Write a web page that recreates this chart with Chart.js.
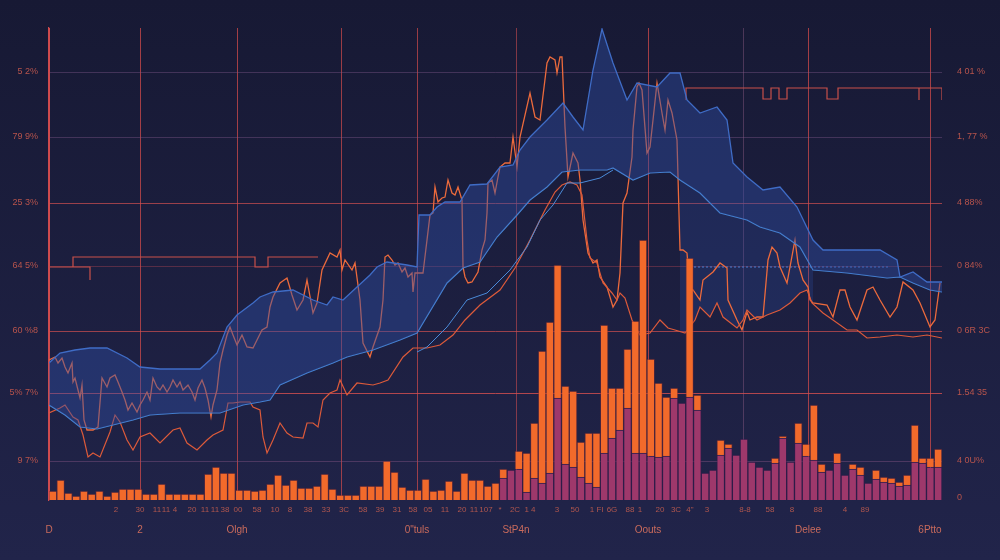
<!DOCTYPE html>
<html>
<head>
<meta charset="utf-8">
<script src="https://cdn.jsdelivr.net/npm/chart.js@4"></script>
<style>
  html, body { margin: 0; padding: 0; background: #1c1e3d; }
  #wrap { width: 1000px; height: 560px; }
</style>
</head>
<body>
<div id="wrap"><canvas id="myChart"></canvas></div>
<script>
// volume bars: orange part and magenta base, one value per session
const orangeVol = [
  1.8, 4, 1.4, 0.8, 1.8, 1.2, 1.8, 0.8, 1.6, 2.2, 2.2, 2.2, 1.2, 1.2, 3.2, 1.2, 1.2, 1.2, 1.2, 1.2,
  5.2, 6.6, 5.4, 5.4, 2, 2, 1.8, 2, 3.2, 5, 3, 4, 2.4, 2.4, 2.8, 5.2, 2.2, 1, 1, 1,
  2.8, 2.8, 2.8, 7.8, 5.6, 2.6, 2, 2, 4.2, 1.8, 2, 3.8, 1.8, 5.4, 4, 4, 2.8, 3.4,
  1.8, 0, 3.6, 7.8, 11, 26.4, 30.2, 26.6, 15.6, 15.2, 7, 10, 10.8, 25.6, 10, 8.4, 11.8, 26.4, 42.6, 19.4,
  14.8, 11.8, 2, 0, 27.8, 3, 0, 0, 3, 0.8, 0, 0, 0, 0, 0, 1, 0.4, 0, 4, 2.4,
  11, 1.6, 0, 2, 0, 1, 1.6, 0, 1.8, 1, 1, 0.8, 2, 7.4, 1, 1.8, 3.6
];
const magentaVol = [
  0, 0, 0, 0, 0, 0, 0, 0, 0, 0, 0, 0, 0, 0, 0, 0, 0, 0, 0, 0,
  0, 0, 0, 0, 0, 0, 0, 0, 0, 0, 0, 0, 0, 0, 0, 0, 0, 0, 0, 0,
  0, 0, 0, 0, 0, 0, 0, 0, 0, 0, 0, 0, 0, 0, 0, 0, 0, 0,
  4.4, 6, 6.2, 1.6, 4.4, 3.4, 5.4, 20.4, 7.2, 6.6, 4.6, 3.4, 2.6, 9.4, 12.4, 14, 18.4, 9.4, 9.4, 8.8,
  8.6, 8.8, 20.4, 19.4, 20.6, 18, 5.4, 6, 9, 10.4, 9, 12.2, 7.6, 6.6, 6, 7.4, 12.4, 7.6, 11.4, 8.8,
  8, 5.6, 6, 7.4, 5, 6.2, 5, 3.4, 4.2, 3.6, 3.4, 2.8, 3, 7.6, 7.4, 6.6, 6.6
];
const barDays = orangeVol.map((_, i) => String(i + 1));

// price lines as [day, value]
const upperOrange = [
  [0, 28], [0.6, 28.6], [0.9, 27.4], [1.3, 28.4], [1.6, 26.6], [1.9, 25.4], [2.3, 27.4], [2.4, 23.6], [2.6, 24.4],
  [2.9, 22], [3.1, 20.4], [3.3, 23], [3.5, 16], [3.8, 14], [4.4, 14], [4.9, 14.6], [5.3, 24.4], [5.8, 22.6],
  [6.1, 24.4], [6.6, 25], [6.9, 23.6], [7.3, 21.6], [7.6, 20], [7.9, 18], [8.3, 19.4], [8.8, 17.6], [9.1, 19],
  [9.4, 20], [9.8, 21.6], [10.1, 20], [10.4, 24.4], [10.8, 22.6], [11.1, 22], [11.4, 23], [11.8, 21.6],
  [12.1, 22.6], [12.4, 24], [12.8, 22.6], [13.1, 23.6], [13.4, 22], [13.9, 23], [14.3, 21.6], [14.6, 20],
  [14.9, 22.4], [15.3, 24], [15.6, 22.4], [15.9, 20], [16.2, 16.6], [16.4, 19], [16.8, 22], [17.1, 27.4],
  [17.4, 30], [17.8, 33], [18.1, 34.6], [18.4, 33], [18.8, 31], [19.3, 33], [19.8, 30.6], [20.4, 30.4],
  [20.8, 32], [21.3, 34], [21.8, 34.6], [22.1, 38.6], [22.4, 40.6], [23.1, 43.4], [23.8, 44.4], [24.3, 41],
  [24.8, 38], [25.4, 40], [25.8, 44], [26.4, 37.4], [26.8, 39.4], [27.3, 46], [28.1, 49.4], [28.8, 48.6],
  [29.1, 50], [29.3, 46], [29.6, 48], [30.3, 46], [30.6, 47.4], [31.1, 40], [31.4, 31.4], [32.1, 28.6],
  [32.4, 30.6], [33.1, 34.6], [33.4, 40], [33.6, 48.6], [33.9, 49], [34.3, 48], [34.6, 47], [34.9, 47.4],
  [35.3, 45.6], [35.6, 46.4], [35.9, 44.6], [36.3, 45.4], [36.4, 41.6], [36.6, 45.4], [37.4, 45.4], [37.8, 52],
  [38.1, 57], [38.4, 57.4], [38.6, 62.6], [38.9, 59.6], [39.3, 60.4], [39.6, 60.6], [39.9, 64], [40.3, 61.4],
  [40.6, 61], [40.9, 62.6], [41.3, 60], [41.4, 46.6], [41.6, 44.6], [41.9, 43.4], [42.3, 43.6], [42.6, 44.6],
  [42.9, 45.6], [43.3, 50], [43.6, 52], [43.8, 57.4], [43.9, 63.4], [44.3, 64], [44.6, 61.4], [44.9, 64.6],
  [45.1, 66.6], [45.6, 67.4], [46.1, 67.4], [46.4, 72.6], [46.8, 66.6], [47.1, 72.6], [48.1, 81.4], [48.6, 76.6],
  [49.1, 76], [49.8, 87.4], [50.1, 88.6], [50.6, 88], [50.8, 85.4], [51.1, 88.6], [51.3, 88.6], [51.6, 74.6],
  [51.9, 64.6], [52.4, 69.4], [52.9, 67.4], [53.1, 64], [53.4, 56], [53.9, 49.4], [54.4, 47.4], [54.8, 48],
  [55.1, 44.6], [55.8, 42.6], [56.4, 38.6], [56.8, 40], [57.1, 45.4], [57.4, 59.4], [57.8, 61.4], [58.3, 68.6],
  [58.4, 74], [58.8, 82.6], [59, 83.4], [59.3, 82], [59.8, 69.4], [60.1, 70.6], [60.4, 76], [60.8, 83.4],
  [61.3, 77.4], [61.6, 74], [61.9, 80], [62.3, 77.4], [62.8, 72], [63.1, 50], [63.4, 50], [63.8, 49.4],
  [64.1, 42], [64.4, 42], [65.1, 40], [65.4, 44], [66.4, 45.6], [67.1, 47.4], [67.8, 46.4], [67.9, 40],
  [68.8, 36], [69.3, 34], [69.8, 37.6], [70.1, 36], [70.8, 36.6], [71.4, 36.6], [71.9, 48], [72.3, 50.6],
  [72.8, 49.4], [73.1, 46.6], [73.8, 43.4], [74.6, 52], [74.9, 47.4], [75.4, 44], [75.9, 42.6], [76.1, 40],
  [76.4, 39.4], [77.8, 39], [78.4, 36.6], [79.1, 42], [79.6, 42], [80.1, 38.6], [80.8, 36], [81.8, 42],
  [82.4, 42.6], [83.1, 40], [84.1, 36.6], [84.8, 38.6], [85.4, 43.6], [86.4, 42], [87.1, 39.4], [88.1, 34.6],
  [88.6, 36], [89.1, 43.4]
];
const lowerOrange = [
  [0, 17.4], [1.1, 18.4], [1.6, 19], [2.4, 16.6], [2.9, 16], [3.4, 13], [3.9, 8.6], [4.4, 9.4], [5.1, 8.6],
  [6.1, 13.6], [6.6, 17], [7.1, 15.6], [7.8, 12], [8.4, 10], [9.1, 12.6], [10.1, 13.4], [11.1, 11.4],
  [12.4, 14], [13.1, 14.4], [13.8, 11.4], [14.8, 10], [15.8, 12], [16.4, 13], [17.4, 14], [17.9, 19.4],
  [18.4, 19.4], [19.1, 19.6], [20.1, 19.6], [20.4, 18.6], [21.1, 18], [21.4, 12.6], [21.8, 9.4], [22.4, 12],
  [23.1, 15.4], [23.8, 13.4], [24.4, 12.6], [25.4, 12.4], [25.8, 15.4], [26.4, 15.4], [26.9, 14.6], [27.4, 20],
  [28.1, 21.4], [28.8, 22], [29.1, 24], [29.8, 21], [30.8, 23.4], [32.4, 23], [33.1, 23.4], [33.9, 24],
  [35.4, 28.6], [36.4, 30.4], [37.8, 30.4], [39.1, 31], [40.4, 33], [41.6, 36], [43.1, 39], [45.1, 42],
  [46.6, 46.4], [48.1, 52], [49.6, 58], [50.6, 61.6], [51.3, 63], [52.1, 63.6], [52.8, 63], [53.3, 61],
  [53.8, 52], [54.1, 48.4], [54.8, 47.4], [55.4, 43.4], [56.3, 41.4], [56.8, 40], [57.1, 41.4], [57.6, 40.4],
  [58.3, 36], [59.1, 33], [60.1, 33.4], [61.1, 36], [61.9, 34.4], [62.6, 34], [63.6, 33.4], [64.6, 36],
  [65.1, 38.6], [66.1, 36.6], [66.8, 39.4], [67.4, 36.6], [68.8, 34.4], [69.4, 36], [69.8, 38], [70.8, 36],
  [71.8, 37], [73.1, 38], [74.1, 39.4], [75.1, 41.4], [75.8, 42], [76.3, 39.4], [77.4, 37.4], [78.4, 36],
  [79.8, 34], [80.8, 34], [81.8, 32.4], [83.1, 32.6], [84.8, 33], [86.4, 32.6], [87.8, 33], [89.3, 32.4]
];
const bandTop = [
  [0, 27.4], [1.1, 29.4], [2.6, 30], [4.1, 30.4], [5.8, 30.4], [7.8, 28.4], [9.1, 26.6], [11.1, 26.2],
  [15.1, 26.2], [16.1, 28], [16.8, 29.4], [17.8, 34.6], [18.8, 37], [20.4, 39.4], [21.1, 40.6], [22.4, 41.6],
  [24.4, 42], [26.4, 40], [27.8, 39], [28.4, 40.6], [29.4, 40], [30.8, 42.6], [32.1, 45], [32.8, 46.6],
  [33.8, 47.6], [35.8, 47], [36.8, 46.6], [37, 57], [38.1, 57], [38.8, 58.6], [39.6, 59.6], [41.1, 59.6],
  [42.1, 63], [43.8, 63.2], [45.1, 66.6], [46.4, 67], [47.1, 70], [48.1, 72.6], [49.8, 76], [51.4, 79.4],
  [52.4, 76.6], [53.4, 74], [54.4, 86], [55.3, 94.2], [56.4, 87.4], [57.8, 80], [58.8, 83.4], [60.8, 82.6],
  [62.1, 85.4], [63.1, 85.4], [63.8, 80], [65.1, 77.4], [66.8, 78.6], [67.8, 76], [68.4, 67.4], [69.8, 64.6],
  [71.4, 62], [73.1, 62.6], [74.8, 58.6], [76.4, 52], [77.4, 50], [80.8, 50], [83.1, 50], [84.8, 48],
  [85.1, 44.6], [86.4, 45.6], [87.8, 43.6], [89.3, 43.6]
];
const bandMid = [
  [0, 19], [1.6, 17], [3.1, 14.6], [4.8, 14.2], [8.4, 16], [10.1, 17], [13.1, 17.4], [17.1, 17.4], [19.4, 19],
  [21.1, 19.6], [22.1, 20], [23.1, 23], [25.8, 25.4], [28.4, 27.4], [29.8, 28.6], [32.4, 30], [35.1, 32],
  [36.8, 33.4], [39.8, 43.4], [41.4, 46.4], [43.1, 47.6], [44.8, 52.6], [46.8, 57], [48.1, 60], [49.8, 62.6],
  [51.3, 65.6], [53.1, 66], [55.8, 66], [56.4, 66.4], [58.4, 64], [60.1, 65.4], [62.1, 65.6], [63.1, 64],
  [65.1, 61.4], [67.1, 57.4], [69.8, 56], [71.1, 54.6], [73.1, 53.4], [75.1, 50.6], [76.4, 46], [79.8, 45.4],
  [83.8, 44.4], [85.1, 44.6], [86.4, 43.4], [88.1, 42], [89.3, 41.6]
];
const bandLow = [
  [36.8, 29.6], [37.8, 30.6], [39.8, 34.6], [41.8, 40], [43.8, 41.4], [46.1, 46], [47.8, 50.6], [49.1, 56],
  [50.4, 59], [51.8, 63.4], [53.1, 63.4], [55.1, 64.4], [56.4, 66]
];
// lighter shading under the band on the falling side
const shadeEdge = [
  [63.1, 64], [65.1, 61.4], [67.1, 57.4], [69.8, 56], [71.1, 54.6], [73.1, 53.4], [75.1, 50.6], [76.4, 46]
];
// thin step markers
const stepLeftA = [[0, 46.6], [4.1, 46.6], [4.1, 44]];
const stepLeftB = [[2.4, 46.6], [2.4, 48.6], [20.6, 48.6], [20.6, 46.6], [21.9, 46.6], [21.9, 48.6], [26.9, 48.6]];
const stepRight = [
  [63.7, 80], [63.7, 82.4], [71.4, 82.4], [71.4, 80.2], [72.2, 80.2], [72.2, 82.4], [73, 82.4], [73, 80.2],
  [73.8, 80.2], [73.8, 82.4], [77.8, 82.4], [77.8, 80.2], [78.9, 80.2], [78.9, 82.4], [89.3, 82.4], [89.3, 80]
];
const stepRightTick = [[87, 82.4], [87, 80]];
const blueDots = [[64.1, 46.6], [84.1, 46.6]];

// axes
const yTicks = [0.4, 7.8, 21.4, 33.8, 46.8, 59.4, 72.6, 85.6];
const leftLabels = ["", "9 7%", "5% 7%", "60 %8", "64 5%", "25 3%", "79 9%", "5 2%"];
const rightLabels = ["0", "4 0U%", "1.54 35", "0 6R 3C", "0 84%", "4 88%", "1, 77 %", "4 01 %"];
const yGridColors = [
  "rgba(0,0,0,0)", "rgba(130,85,130,0.45)", "rgba(215,80,80,0.8)", "rgba(210,80,80,0.7)",
  "rgba(200,75,85,0.35)", "rgba(210,80,80,0.7)", "rgba(130,90,140,0.4)", "rgba(130,90,140,0.4)"
];
const dateTicks = [0, 9.1, 18.8, 29.2, 36.8, 46.7, 59.9, 69.4, 75.9, 88.1];
const dateLabels = ["D", "2", "Olgh", "", "0\"tuls", "StP4n", "Oouts", "", "Delee", "6Ptto"];
const xGridColors = [
  "rgba(225,80,80,0.9)", "rgba(210,75,75,0.75)", "rgba(210,75,75,0.75)", "rgba(210,75,75,0.7)",
  "rgba(210,75,75,0.7)", "rgba(200,75,80,0.6)", "rgba(210,75,75,0.75)", "rgba(140,90,130,0.45)",
  "rgba(210,75,75,0.75)", "rgba(210,75,75,0.75)"
];
const smallTicks = [
  6.7, 9.1, 10.8, 11.7, 12.6, 14.3, 15.6, 16.6, 17.6, 18.9, 20.8, 22.6, 24.1, 25.9, 27.7, 29.5, 31.4, 33.1,
  34.8, 36.4, 37.9, 39.6, 41.3, 42.5, 43.7, 45.1, 46.6, 48.1, 50.8, 52.6, 54.3, 55.1, 56.3, 58.1, 59.1,
  61.1, 62.7, 64.1, 65.8, 69.6, 72.1, 74.3, 76.9, 79.6, 81.6
];
const smallLabels = [
  "2", "30", "11", "11", "4", "20", "11", "11", "38", "00", "58", "10", "8", "38", "33", "3C", "58", "39",
  "31", "58", "05", "11", "20", "11", "107", "*", "2C", "1 4", "3", "50", "1", "FI", "6G", "88", "1",
  "20", "3C", "4\"", "3", "8-8", "58", "8", "88", "4", "89"
];

const xMax = 89.3;
const yMax = 94.4;
const labelFont = "Liberation Sans";
const pts = (arr) => arr.map(([x, y]) => ({ x, y }));

const lineBase = {
  type: "line",
  xAxisID: "xl",
  yAxisID: "y",
  pointRadius: 0,
  tension: 0,
  order: 2,
};

const barBase = {
  xAxisID: "x",
  yAxisID: "yb",
  stack: "vol",
  grouped: false,
  barPercentage: 1,
  categoryPercentage: 1,
  borderWidth: 1,
  order: 1,
};

const bgPlugin = {
  id: "bg",
  beforeDraw(chart) {
    const c = chart.ctx;
    const g = c.createLinearGradient(0, 0, 0, chart.height);
    g.addColorStop(0, "#171934");
    g.addColorStop(1, "#21244a");
    c.save();
    c.fillStyle = g;
    c.fillRect(0, 0, chart.width, chart.height);
    c.restore();
  },
};

new Chart(document.getElementById("myChart"), {
  type: "bar",
  data: {
    labels: barDays,
    datasets: [
      {
        ...barBase,
        data: magentaVol,
        backgroundColor: "#9e386b",
        borderColor: "rgba(60,25,75,0.45)",
      },
      {
        ...barBase,
        data: orangeVol,
        backgroundColor: "#f26a2b",
        borderColor: "rgba(120,40,50,0.45)",
      },
      {
        ...lineBase,
        data: pts(bandTop),
        borderColor: "#3f6cc6",
        borderWidth: 1.3,
        fill: { target: "+1" },
        backgroundColor: "rgba(48,78,168,0.42)",
      },
      {
        ...lineBase,
        data: pts(bandMid),
        borderColor: "#4a8ad8",
        borderWidth: 1.2,
        fill: false,
      },
      {
        ...lineBase,
        data: pts(bandLow),
        borderColor: "#4a8ad8",
        borderWidth: 1,
        fill: false,
      },
      {
        ...lineBase,
        data: pts(lowerOrange),
        borderColor: "#dc5a3a",
        borderWidth: 1.2,
        fill: false,
      },
      {
        ...lineBase,
        data: pts(upperOrange),
        borderColor: "#ec6a3c",
        borderWidth: 1.3,
        fill: false,
      },
      { ...lineBase, data: pts(stepLeftA), borderColor: "#c9504a", borderWidth: 1.2, fill: false },
      { ...lineBase, data: pts(stepLeftB), borderColor: "#c9504a", borderWidth: 1.2, fill: false },
      { ...lineBase, data: pts(stepRight), borderColor: "#c9504a", borderWidth: 1.2, fill: false },
      { ...lineBase, data: pts(stepRightTick), borderColor: "#c9504a", borderWidth: 1.2, fill: false },
      {
        ...lineBase,
        data: pts(blueDots),
        borderColor: "#4a7fd0",
        borderWidth: 1,
        borderDash: [2, 2],
        fill: false,
      },
      {
        ...lineBase,
        order: 3,
        data: pts(shadeEdge),
        borderWidth: 0,
        borderColor: "rgba(0,0,0,0)",
        fill: 5,
        backgroundColor: "rgba(48,78,168,0.26)",
      },
    ],
  },
  options: {
    responsive: true,
    maintainAspectRatio: false,
    animation: false,
    layout: { padding: { top: 28, left: 0, right: 0, bottom: 0 } },
    plugins: {
      legend: { display: false },
      tooltip: { enabled: false },
    },
    scales: {
      x: {
        type: "category",
        display: false,
        stacked: true,
        grid: { display: false },
      },
      yb: {
        type: "linear",
        display: false,
        stacked: true,
        min: 0,
        max: yMax,
      },
      xs: {
        type: "linear",
        position: "bottom",
        weight: 0,
        offset: false,
        min: 0,
        max: xMax,
        afterBuildTicks: (scale) => {
          scale.ticks = smallTicks.map((v) => ({ value: v }));
        },
        afterFit: (scale) => {
          scale.height = 20;
        },
        grid: { display: false, drawTicks: false, offset: false },
        border: { display: false },
        ticks: {
          autoSkip: false,
          maxRotation: 0,
          minRotation: 0,
          padding: 5,
          color: "#b0564e",
          font: { family: labelFont, size: 8 },
          callback: (value, index) => smallLabels[index],
        },
      },
      xl: {
        type: "linear",
        position: "bottom",
        weight: 1,
        offset: false,
        min: 0,
        max: xMax,
        afterBuildTicks: (scale) => {
          scale.ticks = dateTicks.map((v) => ({ value: v }));
        },
        afterFit: (scale) => {
          scale.height = 40;
        },
        grid: {
          offset: false,
          drawTicks: false,
          color: (ctx) => xGridColors[ctx.index],
          lineWidth: 1,
        },
        border: { display: false },
        ticks: {
          autoSkip: false,
          maxRotation: 0,
          minRotation: 0,
          padding: 4,
          color: "#c86a5c",
          font: { family: labelFont, size: 10 },
          callback: (value, index) => dateLabels[index],
        },
      },
      y: {
        type: "linear",
        position: "left",
        min: 0,
        max: yMax,
        afterBuildTicks: (scale) => {
          scale.ticks = yTicks.map((v) => ({ value: v }));
        },
        afterFit: (scale) => {
          scale.width = 49;
        },
        grid: {
          drawTicks: false,
          color: (ctx) => yGridColors[ctx.index],
          lineWidth: 1,
        },
        border: { display: true, color: "rgba(225,80,80,0.9)", width: 1.2 },
        ticks: {
          padding: 11,
          color: "#b8544c",
          font: { family: labelFont, size: 9 },
          callback: (value, index) => leftLabels[index],
        },
      },
      yr: {
        type: "linear",
        position: "right",
        min: 0,
        max: yMax,
        afterBuildTicks: (scale) => {
          scale.ticks = yTicks.map((v) => ({ value: v }));
        },
        afterFit: (scale) => {
          scale.width = 58;
        },
        grid: { display: false, drawTicks: false },
        border: { display: false },
        ticks: {
          padding: 15,
          color: "#b8544c",
          font: { family: labelFont, size: 9 },
          callback: (value, index) => rightLabels[index],
        },
      },
    },
  },
  plugins: [bgPlugin],
});
</script>
</body>
</html>
